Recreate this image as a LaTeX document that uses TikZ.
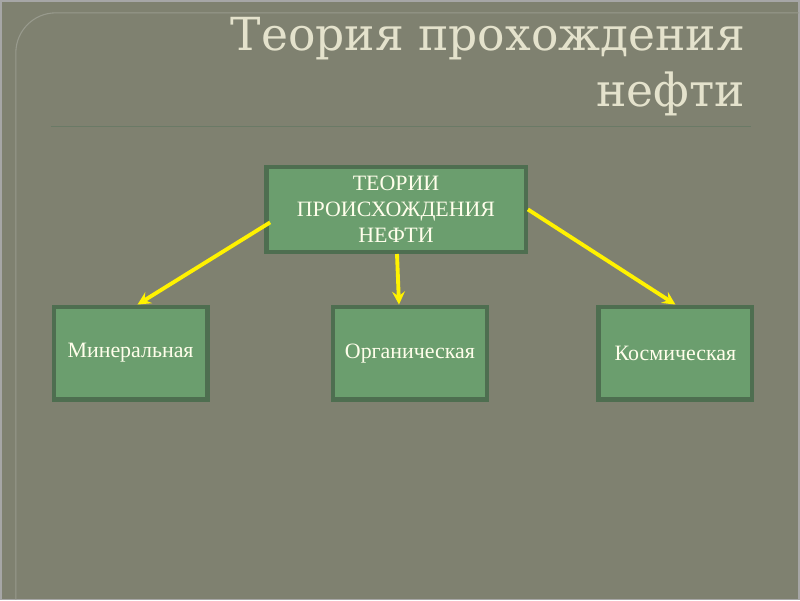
\documentclass[tikz,border=0pt]{standalone}
\usepackage{fontspec}
\setmainfont{Liberation Serif}
\newfontfamily\titlefont{DejaVu Serif}
\usetikzlibrary{positioning}
\definecolor{bgcol}{HTML}{7F8170}
\definecolor{boxcol}{HTML}{6B9E6E}
\definecolor{edgecol}{HTML}{4E6E50}
\definecolor{titlecol}{HTML}{E4E2CC}
\definecolor{rulecol}{HTML}{6A7A66}
\tikzset{
  theory/.style={draw=edgecol,line width=2.5pt,fill=boxcol,text=white!92!yellow,
    font=\fontsize{12.5}{15}\selectfont,align=center,
    minimum width=3.08cm,minimum height=1.86cm,inner sep=0pt},
  arrow/.style={line width=2.2pt,draw=yellow,->,>=stealth}
}
\begin{document}
\begin{tikzpicture}[x=0.02cm,y=-0.02cm]
	\fill[bgcol] (0,0) rectangle (800,600);
	\draw[black!35,line width=1pt] (0,0) rectangle (800,600);
	\draw[bgcol!80!white,line width=0.6pt,rounded corners=0.8cm] (15,600) -- (15,12) -- (800,12);
	\useasboundingbox (0,0) rectangle (800,600);
	%Title
	\node[anchor=base east,text=titlecol,font=\titlefont\fontsize{26}{30}\selectfont] (title1) at (752,50) {Теория прохождения};
	\node[anchor=base east,text=titlecol,font=\titlefont\fontsize{26}{30}\selectfont] (title2) at (752,106) {нефти};
	\draw[rulecol,line width=1pt] (50,126) -- (752,126);
	%Nodes
	\node[theory,minimum width=5.2cm,minimum height=1.7cm] (top) at (396,209) {ТЕОРИИ\\ПРОИСХОЖДЕНИЯ\\НЕФТИ};
	\node[theory] (mineral) at (130,353) {Минеральная};
	\node[theory] (organic) at (410,353) {Органическая};
	\node[theory] (cosmic) at (676,353) {Космическая};
	%Arrows
	\draw[arrow] ([yshift=-0.26cm,xshift=0.12cm]top.west) -- ([xshift=0.14cm]mineral.north);
	\draw[arrow] ([xshift=0.02cm]top.south) -- ([xshift=-0.22cm]organic.north);
	\draw[arrow] (top.east) -- (cosmic.north);
\end{tikzpicture}
\end{document}
